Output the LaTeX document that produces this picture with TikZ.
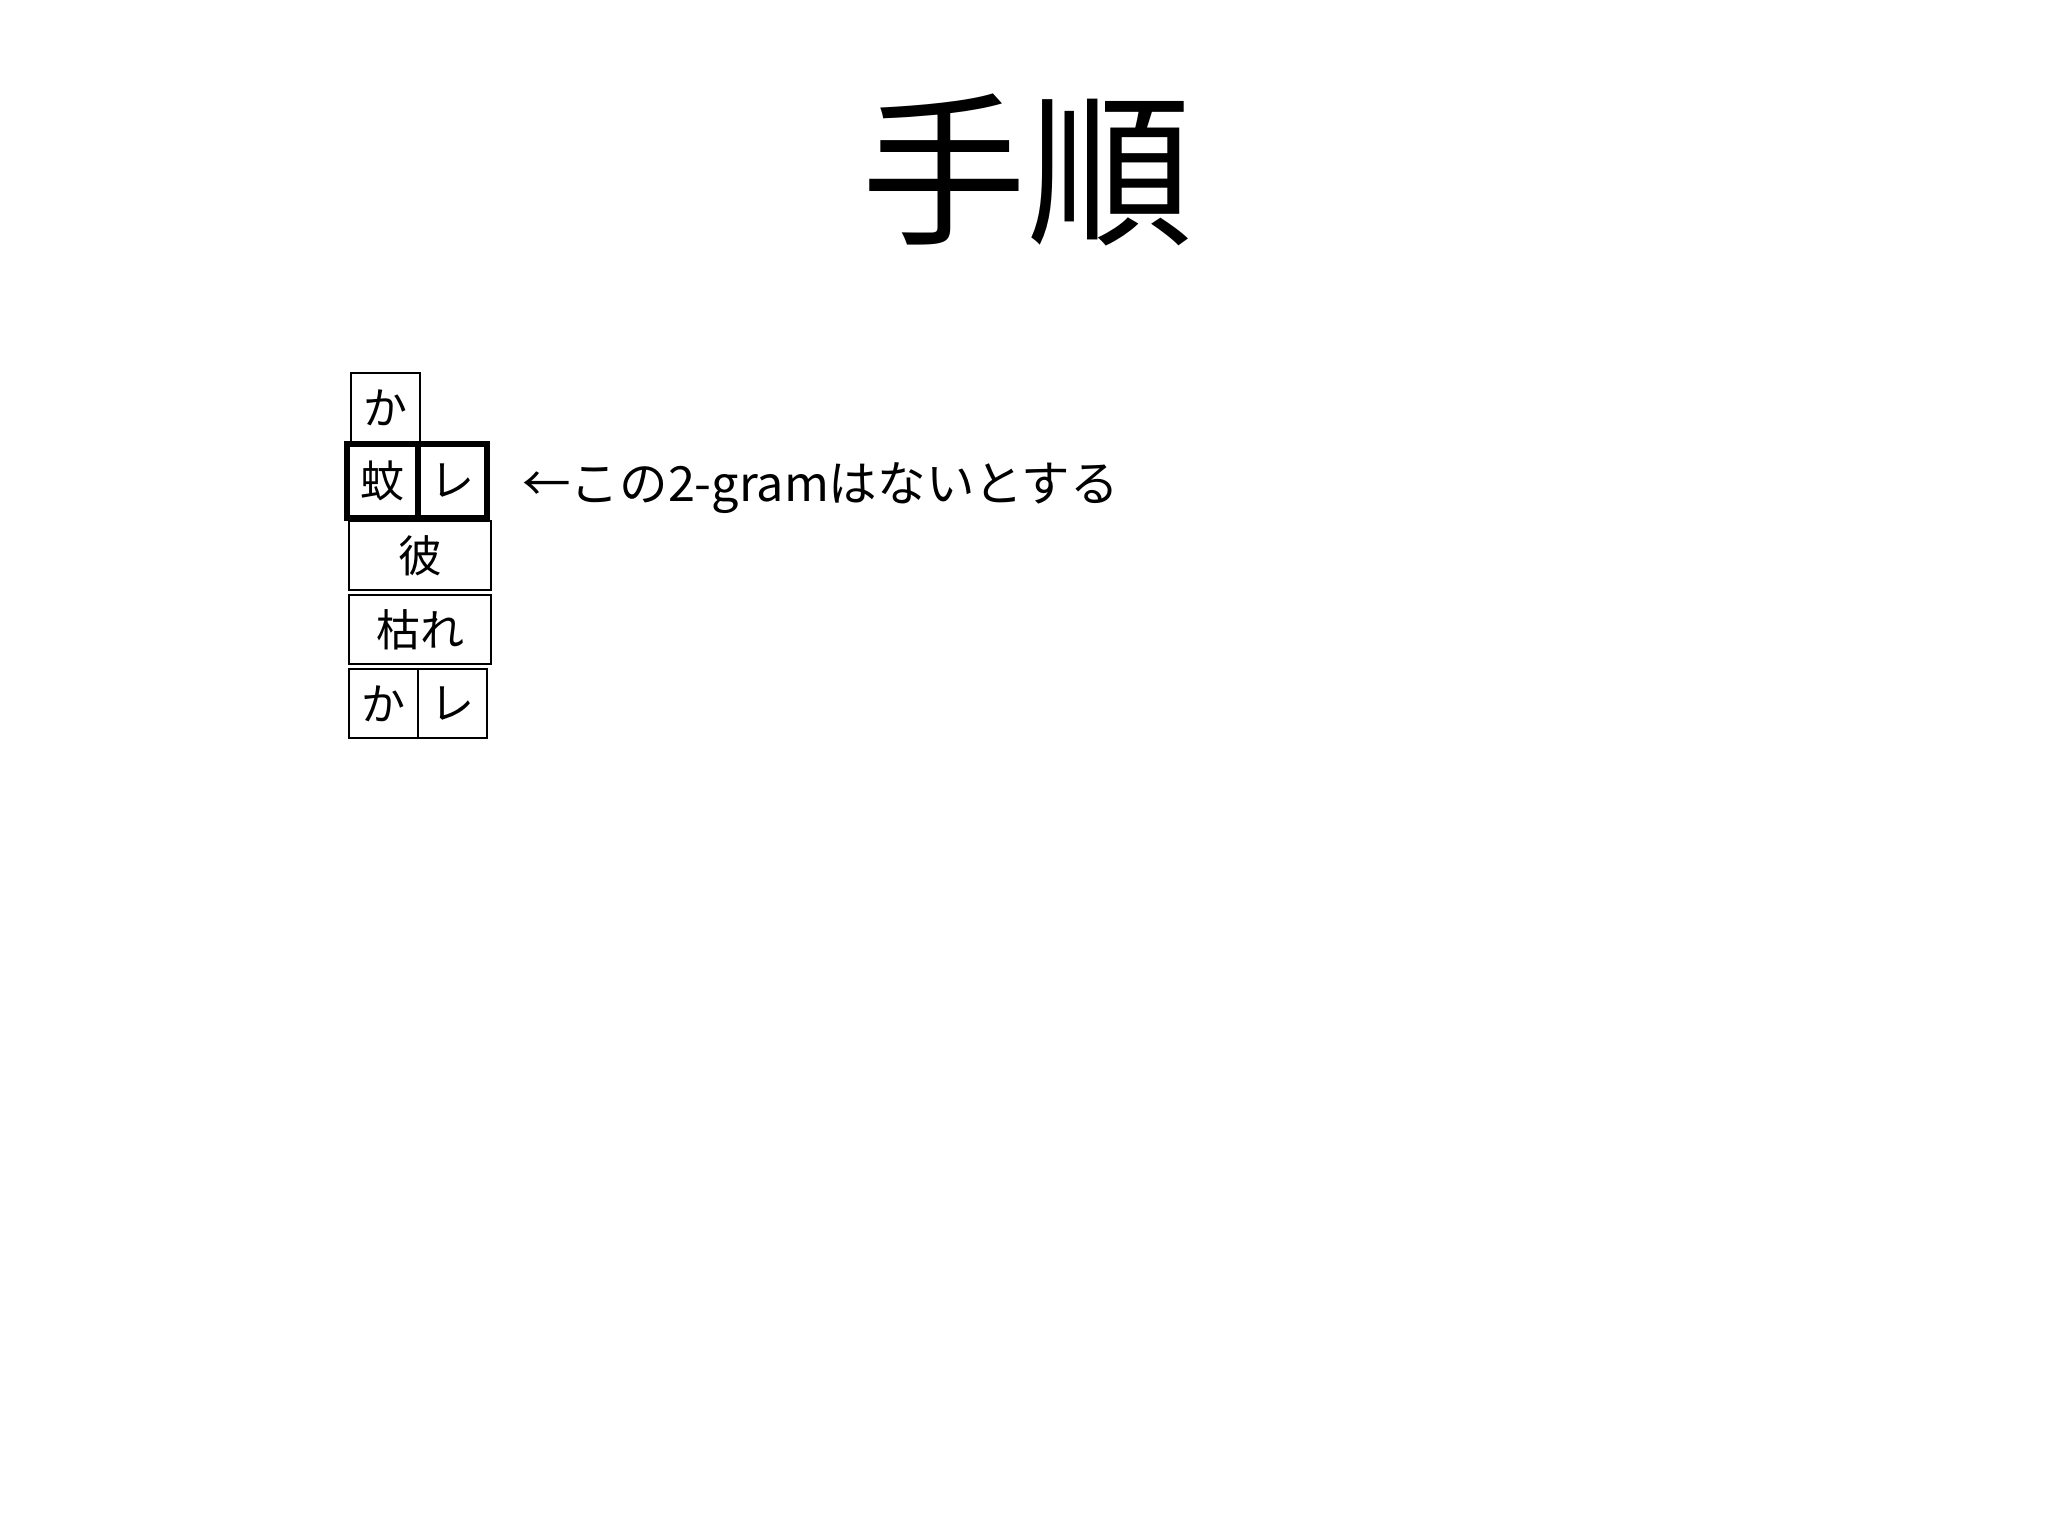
\documentclass[tikz,border=0pt]{standalone}
\usepackage{fontspec}
\newfontfamily\jp{Noto Sans CJK JP}
\tikzset{
  cell/.style={draw, line width=0.5pt, inner sep=0pt, minimum width=0.69cm,
    minimum height=0.69cm, font=\jp\fontsize{12.5}{14}\selectfont},
  wcell/.style={cell, minimum width=1.42cm},
  boldcell/.style={cell, line width=1.7pt, minimum height=0.74cm}
}
\begin{document}
\begin{tikzpicture}[x=0.01cm,y=-0.01cm]
  \useasboundingbox[fill=white] (0,0) rectangle (2048,1536);
  \node[font=\jp\fontsize{47}{50}\selectfont] (title) at (1027,170) {手順};
  % 1段目
  \node[cell] (ka) at (385.5,407.5) {か};
  % 2段目（存在しない2-gram）
  \node[boldcell, minimum width=0.70cm] (mosquito) at (382.5,481) {蚊};
  \node[boldcell] (re) at (452.5,481) {レ};
  \node[font=\jp\fontsize{13.8}{15}\selectfont, anchor=west] (note) at (510,488) {←この2-gramはないとする};
  % 3段目以降
  \node[wcell] (kare) at (420,555.5) {彼};
  \node[wcell] (kare2) at (420,629.5) {枯れ};
  \node[cell] (ka3) at (383.5,703.5) {か};
  \node[cell] (re3) at (452.5,703.5) {レ};
\end{tikzpicture}
\end{document}
